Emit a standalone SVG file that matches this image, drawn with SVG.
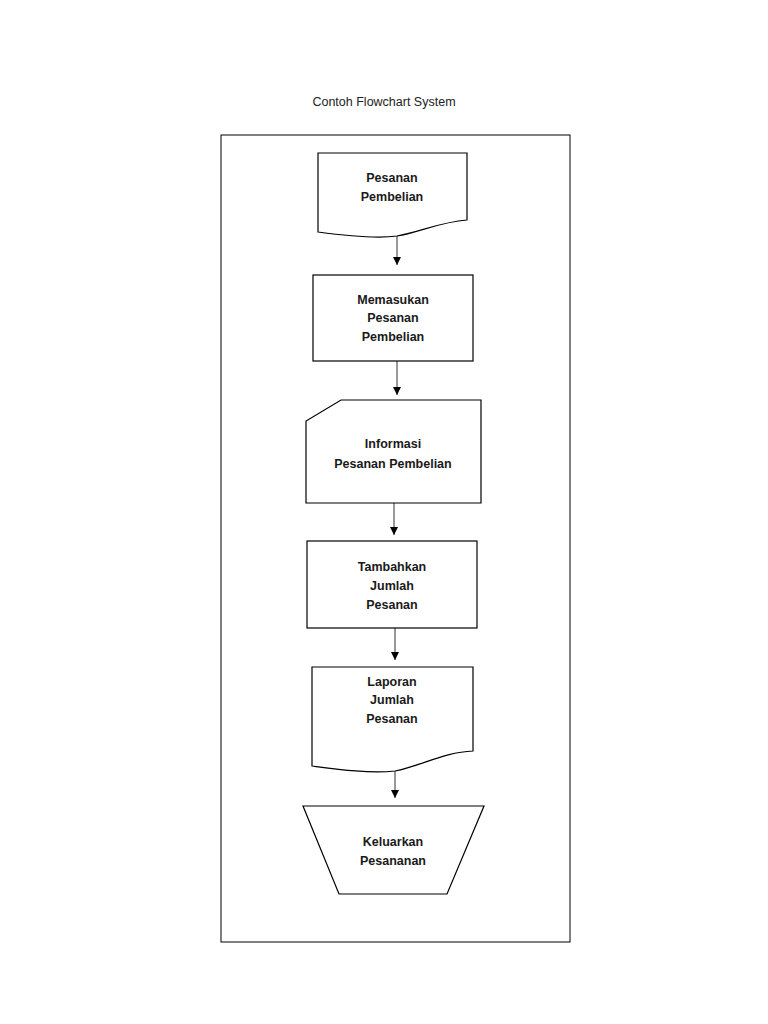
<svg xmlns="http://www.w3.org/2000/svg" width="768" height="1024" viewBox="0 0 768 1024">
<style>
.shape{fill:#fff;stroke:#000;stroke-width:1.2}
.lbl{font-family:"Liberation Sans",Arial,sans-serif;font-size:12.5px;font-weight:bold;fill:#1a1a1a;text-anchor:middle}
.title{font-family:"Liberation Sans",Arial,sans-serif;font-size:12.5px;fill:#222;text-anchor:middle}
.conn{stroke:#333;stroke-width:1;fill:none;marker-end:url(#arr)}
</style>
<defs>
<marker id="arr" viewBox="0 0 10 10" refX="10" refY="5" markerWidth="8" markerHeight="8" markerUnits="userSpaceOnUse" orient="auto">
<path d="M0,0 L10,5 L0,10 z" fill="#000"/>
</marker>
</defs>
<rect width="768" height="1024" fill="#fff"/>
<text class="title" x="384" y="106">Contoh Flowchart System</text>
<rect x="221" y="135" width="349" height="807" fill="none" stroke="#000" stroke-width="1"/>
<g id="connectors">
<line class="conn" x1="397" y1="236" x2="397" y2="265"/>
<line class="conn" x1="397" y1="361" x2="397" y2="395"/>
<line class="conn" x1="394" y1="503" x2="394" y2="535"/>
<line class="conn" x1="395" y1="628" x2="395" y2="660"/>
<line class="conn" x1="395" y1="771" x2="395" y2="798"/>
</g>
<g id="n1">
<path class="shape" d="M318,153 H467 V220 C440,222 420,232 397,236 C375,239 340,235 318,232 Z"/>
<text class="lbl" x="392" y="182">Pesanan</text>
<text class="lbl" x="392" y="201">Pembelian</text>
</g>
<g id="n2">
<rect class="shape" x="313" y="275" width="160" height="86"/>
<text class="lbl" x="393" y="304">Memasukan</text>
<text class="lbl" x="393" y="322">Pesanan</text>
<text class="lbl" x="393" y="341">Pembelian</text>
</g>
<g id="n3">
<path class="shape" d="M341,400 H481 V503 H306 V421 Z"/>
<text class="lbl" x="393" y="448">Informasi</text>
<text class="lbl" x="393" y="468">Pesanan Pembelian</text>
</g>
<g id="n4">
<rect class="shape" x="307" y="541" width="170" height="87" stroke-width="2"/>
<text class="lbl" x="392" y="571">Tambahkan</text>
<text class="lbl" x="392" y="590">Jumlah</text>
<text class="lbl" x="392" y="609">Pesanan</text>
</g>
<g id="n5">
<path class="shape" d="M312,667 H473 V751 C445,752 420,766 395,771 C370,774 335,769 312,766 Z"/>
<text class="lbl" x="392" y="686">Laporan</text>
<text class="lbl" x="392" y="704">Jumlah</text>
<text class="lbl" x="392" y="723">Pesanan</text>
</g>
<g id="n6">
<path class="shape" d="M303,806 H484 L447,894 H339 Z"/>
<text class="lbl" x="393" y="846">Keluarkan</text>
<text class="lbl" x="393" y="865">Pesananan</text>
</g>
</svg>
